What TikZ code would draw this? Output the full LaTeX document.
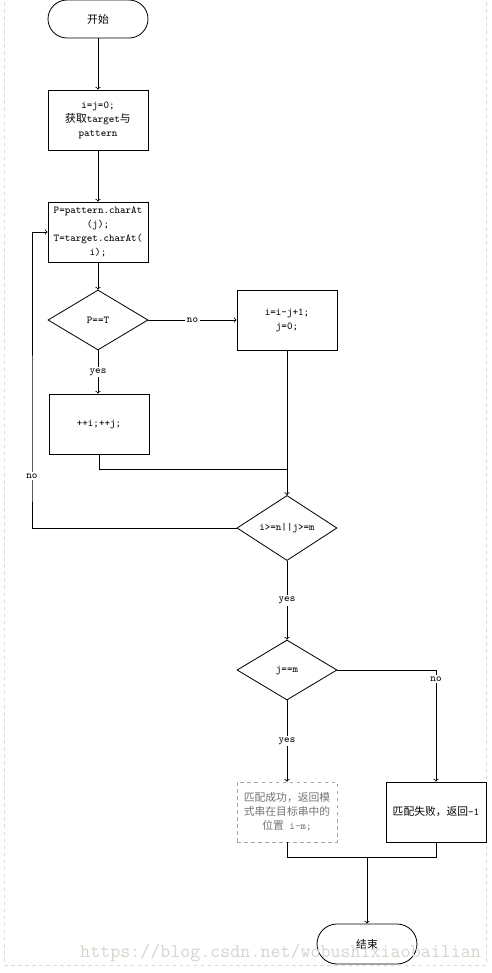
\documentclass[tikz,border=0pt]{standalone}
\usepackage{fontspec}
\newfontfamily\cjk{Noto Sans CJK SC}
\usetikzlibrary{arrows,shapes,positioning}
\definecolor{BoxGray}{RGB}{165,165,165}
\definecolor{TextGray}{RGB}{115,115,115}
\definecolor{PageGray}{RGB}{218,218,218}
\definecolor{MarkGray}{RGB}{212,212,205}
\tikzset{
  wire/.style={line width=0.7pt},
  flow/.style={wire,->,>=to},
  proc/.style={draw,wire,rectangle,minimum width=3cm,minimum height=1.8cm,align=center,inner sep=1pt,font=\ttfamily\fontsize{9}{12}\selectfont},
  term/.style={draw,wire,rectangle,rounded corners=0.57cm,minimum width=3cm,minimum height=1.14cm,font=\cjk\fontsize{9.2}{12}\selectfont},
  cond/.style={draw,wire,diamond,minimum width=3cm,minimum height=1.8cm,inner sep=0pt,font=\ttfamily\fontsize{9}{12}\selectfont},
  lbl/.style={fill=white,inner sep=1.5pt,font=\ttfamily\fontsize{9}{12}\selectfont}
}

\begin{document}
\begin{tikzpicture}[x=0.03cm,y=-0.03cm]
\useasboundingbox (0,0) rectangle (491,973);
\draw[PageGray,dashed] (4,-5) -- (4,965) -- (486,965) -- (486,-5);

\node[term] (start) at (98,19) {开始};

\node[proc] (init) at (98,120) {i=j=0;\\{\cjk\fontsize{9.2}{12}\selectfont 获取}target{\cjk\fontsize{9.2}{12}\selectfont 与}\\pattern};

\node[proc] (read) at (98,232) {P=pattern.charAt\\(j);\\T=target.charAt(\\i);};

\node[cond] (cmp) at (98,320) {P==T};

\node[proc] (reset) at (287,320) {i=i-j+1;\\j=0;};

\node[proc] (step) at (99,424) {++i;++j;};

\node[cond] (check) at (287,528) {i>=n||j>=m};

\node[cond] (match) at (287,670) {j==m};

\node[proc,draw=BoxGray,dashed,line width=0.5pt,text=TextGray] (found) at (287,812) {{\cjk\fontsize{9.2}{12}\selectfont 匹配成功，返回模}\\{\cjk\fontsize{9.2}{12}\selectfont 式串在目标串中的}\\{\cjk\fontsize{9.2}{12}\selectfont 位置} i-m;};

\node[proc] (fail) at (436,812) {{\cjk\fontsize{9.2}{12}\selectfont 匹配失败，返回}-1};

\node[term,minimum height=1.2cm,rounded corners=0.6cm] (finish) at (367,944) {结束};

\coordinate (back) at (32,476);
\coordinate (join) at (287,469);
\coordinate (merge) at (367,857);

\draw[flow] (start) to (init);
\draw[flow] (init) to (read);
\draw[flow] (read) to (cmp);
\draw[flow] (cmp) to node[lbl]{no} (reset);
\draw[flow] (cmp) to node[lbl]{yes} (cmp |- step.north);
\draw[wire] (step.south) |- (join);
\draw[flow] (reset) to (check);
\draw[flow] (check.west) -| (back) node[lbl]{no} |- (read.west);
\draw[flow] (check) to node[lbl]{yes} (match);
\draw[flow] (match.east) -| node[lbl,pos=0.54]{no} (fail.north);
\draw[flow] (match) to node[lbl]{yes} (found);
\draw[wire] (found.south) |- (merge) -| (fail.south);
\draw[flow] (merge) to (finish);

\node[anchor=base west,inner sep=0pt,text=MarkGray,font=\ttfamily\fontsize{16.6}{16}\selectfont] (mark) at (80,957) {https://blog.csdn.net/wobushixiaobailian};
\end{tikzpicture}
\end{document}
